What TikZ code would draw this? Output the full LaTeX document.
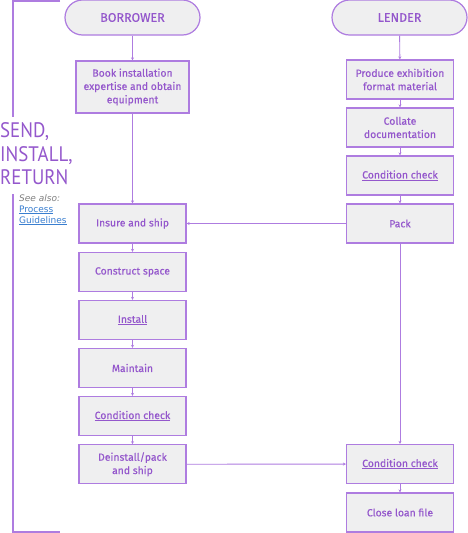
\documentclass[tikz,border=0pt]{standalone}
\usepackage{fontspec}
\setmainfont{Fira Sans}
\newfontfamily\titlefont[FakeStretch=0.9]{PT Sans}
\newfontfamily\notefont{DejaVu Sans}
\usetikzlibrary{arrows.meta}

\definecolor{lilac}{HTML}{AE7CE0}
\definecolor{plum}{HTML}{9457CC}
\definecolor{boxfill}{HTML}{EFEFF0}
\definecolor{linkblue}{HTML}{3A7FD0}

\tikzset{
    stepbox/.style = {draw = lilac, line width = 1.2pt, fill = boxfill, text = plum,
        font = \fontsize{10.4}{13.3}\selectfont\addfontfeatures{FakeBold=0.35}, align = center,
        minimum width = 107pt, minimum height = 39pt, inner sep = 2pt},
    party/.style = {stepbox, rounded corners = 17.5pt, minimum width = 135pt, minimum height = 35pt,
        font = \fontsize{12.5}{15}\selectfont\addfontfeatures{FakeBold=0.35}},
    flow/.style = {draw = lilac, line width = 0.9pt, -{Stealth[length = 3pt, width = 3pt]}}
}

\begin{document}
\begin{tikzpicture}[x = 1pt, y = -1pt]
    \useasboundingbox[fill = white] (0,0) rectangle (468,533);
    % borrower side
    \node[party] (borrower) at (132.5,17.5) {BORROWER};
    \node[stepbox, minimum width = 113pt, minimum height = 52pt] (book) at (132.5,87) {Book installation\\expertise and obtain\\equipment};
    \node[stepbox] (insure) at (132.5,223.5) {Insure and ship};
    \node[stepbox] (construct) at (132.5,272) {Construct space};
    \node[stepbox] (install) at (132.5,320) {\underline{Install}};
    \node[stepbox] (maintain) at (132.5,368) {Maintain};
    \node[stepbox] (bcheck) at (132.5,416) {\underline{Condition check}};
    \node[stepbox] (deinstall) at (132.5,464.3) {Deinstall/pack\\and ship};
    % lender side
    \node[party] (lender) at (399.5,17.5) {LENDER};
    \node[stepbox] (produce) at (400,79.5) {Produce exhibition\\format material};
    \node[stepbox] (collate) at (400,127.5) {Collate\\documentation};
    \node[stepbox] (lcheck) at (400,175.5) {\underline{Condition check}};
    \node[stepbox] (pack) at (400,223.5) {Pack};
    \node[stepbox] (rcheck) at (400,464) {\underline{Condition check}};
    \node[stepbox] (close) at (400,512.5) {Close loan file};
    % side title
    \node[anchor = north west, inner sep = 0pt, align = left, text = plum,
        font = \titlefont\fontsize{21}{23.5}\selectfont] (title) at (0,122.5) {SEND,\\INSTALL,\\RETURN};
    \node[anchor = north west, inner sep = 0pt, align = left,
        font = \notefont\fontsize{9}{11}\selectfont] (seealso) at (19,194) {\textcolor{gray}{\itshape See also:}\\\textcolor{linkblue}{\underline{Process}}\\\textcolor{linkblue}{\underline{Guidelines}}};
    \draw[draw = lilac, line width = 1.2pt] (60,1) -| (13,117);
    \draw[draw = lilac, line width = 1.2pt] (13,194) |- (60,532);
    % connectors
    \draw[flow] (borrower) -- (book);
    \draw[flow] (book) -- (insure);
    \draw[flow] (insure) -- (construct);
    \draw[flow] (construct) -- (install);
    \draw[flow] (install) -- (maintain);
    \draw[flow] (maintain) -- (bcheck);
    \draw[flow] (bcheck) -- (deinstall);
    \draw[flow] (lender) -- (produce);
    \draw[flow] (produce) -- (collate);
    \draw[flow] (collate) -- (lcheck);
    \draw[flow] (lcheck) -- (pack);
    \draw[flow] (pack) -- (insure);
    \draw[flow] (pack) -- (rcheck);
    \draw[flow] (deinstall) -- (rcheck);
    \draw[flow] (rcheck) -- (close);
\end{tikzpicture}
\end{document}
